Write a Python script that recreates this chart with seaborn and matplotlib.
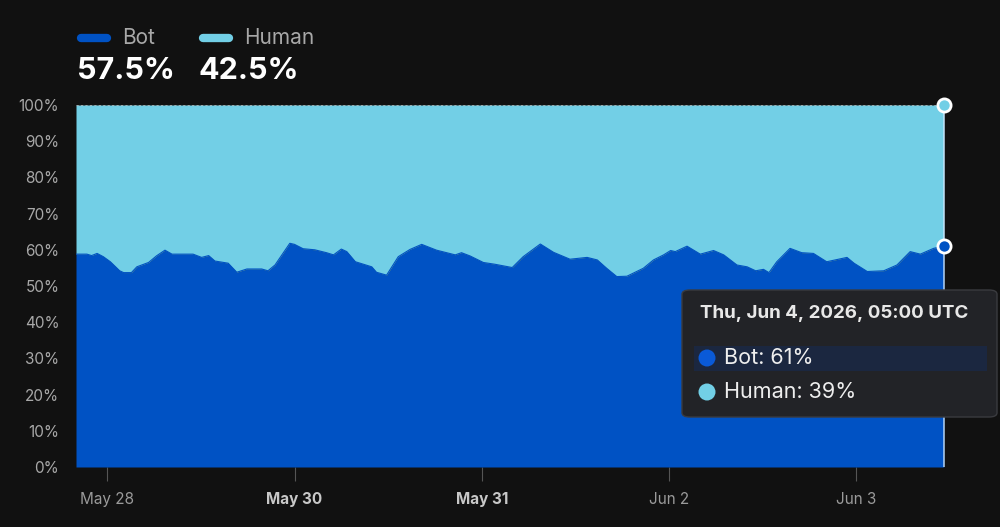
import matplotlib.pyplot as plt
import matplotlib.patches as mpatches
import seaborn as sns
import pandas as pd

# hours since the start of the window, and the bot share (%)
hours = [0, 1.4, 2.0, 2.7, 3.5, 4.4, 5.6, 6.1, 7.1, 7.8, 9.3, 10.3, 11.4, 12.3,
         15.0, 16.1, 17.0, 17.8, 19.5, 20.6, 21.9, 23.8, 24.6, 25.5, 27.4, 28.0,
         29.1, 30.6, 32.1, 33.0, 34.0, 34.7, 35.8, 37.9, 38.5, 39.8, 41.3, 42.8,
         44.3, 46.2, 48.6, 49.4, 50.5, 52.2, 53.7, 55.9, 57.3, 59.5, 61.2, 63.3,
         65.5, 66.8, 68.0, 69.3, 70.6, 72.7, 74.0, 75.3, 76.2, 76.8, 78.3, 80.0,
         81.7, 83.0, 84.7, 86.0, 87.1, 88.1, 88.8, 89.8, 91.5, 93.0, 94.5, 96.2,
         98.8, 99.7, 101.4, 103.5, 105.2, 106.9, 108.2, 109.9, 111.2]
bot = [58.8, 58.8, 58.4, 59.0, 58.1, 56.7, 54.2, 53.7, 53.7, 55.3, 56.5, 58.3,
       59.9, 58.8, 58.8, 57.9, 58.4, 56.9, 56.3, 53.8, 54.7, 54.7, 54.2, 55.8,
       61.8, 61.5, 60.3, 60.0, 59.2, 58.6, 60.2, 59.5, 56.7, 55.3, 53.8, 53.0,
       58.1, 60.1, 61.5, 59.9, 58.6, 59.2, 58.3, 56.5, 56.0, 55.1, 58.1, 61.6,
       59.3, 57.4, 57.9, 57.2, 54.9, 52.6, 52.7, 54.9, 57.2, 58.6, 59.8, 59.5,
       61.0, 58.8, 59.8, 58.6, 55.8, 55.3, 54.2, 54.6, 53.7, 56.7, 60.4, 59.2,
       59.0, 56.7, 57.9, 56.3, 54.0, 54.2, 55.8, 59.5, 58.8, 60.4, 61.0]

tick_hours = [4, 28, 52, 76, 100]
tick_labels = ["May 28", "May 30", "May 31", "Jun 2", "Jun 3"]
tick_bold = [False, True, True, False, False]

series_names = ["Bot", "Human"]
series_totals = ["57.5%", "42.5%"]
tooltip_title = "Thu, Jun 4, 2026, 05:00 UTC"
tooltip_rows = ["Bot: 61%", "Human: 39%"]

BOT_C = "#0052c4"
HUMAN_C = "#72cfe6"
BG = "#111111"

df = pd.DataFrame({"hour": hours, "bot": bot})
df["human"] = 100 - df["bot"]

sns.set_style("dark")
plt.rcParams["font.family"] = ["Inter", "DejaVu Sans"]

W, H = 1000, 527
fig = plt.figure(figsize=(W / 100, H / 100), dpi=100, facecolor=BG)
ax = fig.add_axes([76 / W, 1 - 467 / H, (950 - 76) / W, (467 - 105) / H])
ax.set_facecolor(BG)

# stacked areas
ax.fill_between(df["hour"], 0, df["bot"], color=BOT_C, lw=0)
ax.fill_between(df["hour"], df["bot"], 100, color=HUMAN_C, lw=0)
sns.lineplot(data=df, x="hour", y="bot", ax=ax, color=BOT_C, lw=0.8)

ax.set_xlim(0, 112)
ax.set_ylim(0, 100)
ax.axhline(100, color="#d8d8d8", lw=0.8, ls=(0, (2, 2)), alpha=0.6)
ax.axhline(0, color="#8899bb", lw=0.6, alpha=0.5)

# hover crosshair and markers
x_last = df["hour"].iloc[-1]
ax.axvline(x_last, color="#cfe8ff", lw=1.2, alpha=0.8)
ax.scatter([x_last], [100], s=90, color=HUMAN_C, edgecolor="white", lw=2, zorder=5, clip_on=False)
ax.scatter([x_last], [df["bot"].iloc[-1]], s=90, color=BOT_C, edgecolor="white", lw=2, zorder=5, clip_on=False)

for s in ax.spines.values():
    s.set_visible(False)
ax.grid(False)

ax.set_yticks(range(0, 101, 10))
ax.set_yticklabels([f"{v}%" for v in range(0, 101, 10)], color="#a8a8a8", fontsize=11)
ax.set_xticks(tick_hours)
ax.set_xticklabels(tick_labels, fontsize=11)
for lbl, b in zip(ax.get_xticklabels(), tick_bold):
    lbl.set_color("#c8c8c8" if b else "#9a9a9a")
    lbl.set_fontweight("bold" if b else "normal")
ax.tick_params(axis="x", length=10, width=0.8, color="#555555", pad=8, direction="out", bottom=True)
ax.tick_params(axis="y", length=0, pad=12)
ax.set_xlabel("")
ax.set_ylabel("")


def fx(x):
    return x / W


def fy(y):
    return 1 - y / H


# legend header
for x0, name, total, c in zip([77, 199], series_names, series_totals, [BOT_C, HUMAN_C]):
    fig.add_artist(plt.Line2D([fx(x0 + 4), fx(x0 + 30)], [fy(38), fy(38)],
                              color=c, lw=6, solid_capstyle="round"))
    fig.text(fx(x0 + 45), fy(38), name, color="#a8a8a8", fontsize=15, va="center")
    fig.text(fx(x0), fy(71), total, color="white", fontsize=22, fontweight="bold", va="center")

# tooltip
box = mpatches.FancyBboxPatch((fx(682), fy(417)), fx(997) - fx(682), fy(290) - fy(417),
                              boxstyle="round,pad=0,rounding_size=0.008",
                              transform=fig.transFigure, facecolor="#222327",
                              edgecolor="#3a3b3f", lw=1, zorder=10)
fig.add_artist(box)
hl = mpatches.Rectangle((fx(694), fy(371)), fx(987) - fx(694), fy(346) - fy(371),
                        transform=fig.transFigure, facecolor="#1b2740", lw=0, zorder=11)
fig.add_artist(hl)
fig.text(fx(700), fy(314), tooltip_title, color="#e8e8e8", fontsize=13.5,
         fontweight="bold", va="center", zorder=12)
for yy, row, c in zip([358, 392], tooltip_rows, ["#0a5ad8", HUMAN_C]):
    fig.add_artist(mpatches.Ellipse((fx(707), fy(yy)), 17 / W, 17 / H, transform=fig.transFigure,
                                    facecolor=c, lw=0, zorder=12))
    fig.text(fx(724), fy(yy), row, color="#eeeeee", fontsize=15.5, va="center", zorder=12)

fig.savefig("out.png", dpi=100, facecolor=BG)
